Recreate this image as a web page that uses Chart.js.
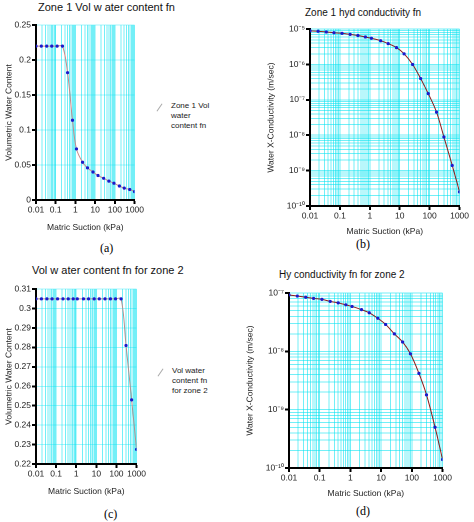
<!DOCTYPE html>
<html>
<head>
<meta charset="utf-8">
<script src="https://cdn.jsdelivr.net/npm/chart.js@4.4.0/dist/chart.umd.min.js"></script>
<style>
body{margin:0;background:#fff;font-family:"Liberation Sans",Arial,sans-serif;width:474px;height:522px;position:relative;overflow:hidden}
canvas{position:absolute}
.t{position:absolute;font-size:10px;color:#111;white-space:nowrap}
.lab{position:absolute;font-family:"Liberation Serif",serif;font-size:12px}
.leg{position:absolute;font-size:8px;line-height:10px;color:#222}
.leg i{position:absolute;left:-12px;top:2px;width:1px;height:9px;background:#aaa;transform:rotate(35deg)}
</style>
</head>
<body>
<div class="t" style="left:38px;top:1px;font-size:11px">Zone 1 Vol w ater content fn</div>
<div class="t" style="left:305px;top:7px">Zone 1 hyd conductivity fn</div>
<div class="t" style="left:32px;top:264px;font-size:11px">Vol w ater content fn for zone 2</div>
<div class="t" style="left:279px;top:269px">Hy conductivity fn for zone 2</div>
<div class="leg" style="left:171px;top:101px"><i></i>Zone 1 Vol<br>water<br>content fn</div>
<div class="leg" style="left:172px;top:366px"><i></i>Vol water<br>content fn<br>for zone 2</div>
<div class="lab" style="left:100px;top:241px">(a)</div>
<div class="lab" style="left:356px;top:237px">(b)</div>
<div class="lab" style="left:104px;top:507px">(c)</div>
<div class="lab" style="left:356px;top:504px">(d)</div>
<canvas id="ca"></canvas>
<canvas id="cb"></canvas>
<canvas id="cc"></canvas>
<canvas id="cd"></canvas>
<script>
// suction values (kPa), shared by all four panels
const suction = [0.01,0.0186,0.035,0.063,0.118,0.22,0.4,0.71,1.13,2.3,4.1,7.8,14,27,50,90,170,300,570,1000]
const zone1Vwc = [0.22,0.22,0.22,0.22,0.22,0.22,0.182,0.114,0.073,0.054,0.046,0.040,0.035,0.031,0.027,0.024,0.020,0.017,0.015,0.012]
const zone2Vwc = [0.305,0.305,0.305,0.305,0.305,0.305,0.305,0.305,0.305,0.305,0.305,0.305,0.305,0.305,0.305,0.305,0.305,0.281,0.253,0.2275]
const zone1K = [8.9e-6,8.7e-6,8.3e-6,7.9e-6,7.6e-6,7.1e-6,6.6e-6,6.0e-6,5.5e-6,4.7e-6,3.9e-6,3.0e-6,2.0e-6,1.0e-6,4.0e-7,1.5e-7,4.5e-8,8.9e-9,1.4e-9,2.5e-10]
const zone2K = [9.3e-8,8.9e-8,8.5e-8,8.1e-8,7.8e-8,7.2e-8,6.8e-8,6.3e-8,5.9e-8,5.2e-8,4.6e-8,3.7e-8,2.9e-8,2.0e-8,1.45e-8,9.1e-9,4.2e-9,1.8e-9,5.0e-10,1.4e-10]
const xTickLabels = ['0.01','0.1','1','10','100','1000']
const sup = {'-':'⁻','0':'⁰','1':'¹','5':'⁵','6':'⁶','7':'⁷','8':'⁸','9':'⁹'}

const FONT = {family:'"Liberation Sans", Arial, sans-serif', size:8.5}
const CYAN = 'rgba(0,225,240,0.55)'

function logTicks(lo, hi){
  let t = []
  for(let e=lo;e<hi;e++) for(let m=1;m<10;m++) t.push({value:Number((m+'e'+e))})
  t.push({value:Number('1e'+hi)})
  return t
}
function isDecade(v){ let l=Math.log10(v); return Math.abs(l-Math.round(l))<1e-6 }

function xScale(h){
  return {type:'logarithmic',min:0.01,max:1000,
    afterBuildTicks:s=>{s.ticks=logTicks(-2,3)},
    afterFit:s=>{s.height=h},
    ticks:{autoSkip:false,maxRotation:0,font:FONT,color:'#222',padding:1,
      callback:v=>isDecade(v)?xTickLabels[Math.round(Math.log10(v))+2]:''},
    grid:{color:CYAN,tickColor:c=>isDecade(c.tick.value)?'#000':'rgba(0,0,0,0)',tickLength:4,tickWidth:2},
    border:{color:'#000',width:2},
    title:{display:true,text:'Matric Suction (kPa)',font:FONT,color:'#222',padding:{top:9}}}
}

function makeChart(id, box, x, y, yScale, yw, xh, lineColor){
  const c = document.getElementById(id)
  c.style.left = box[0]+'px'; c.style.top = box[1]+'px'
  c.style.width = box[2]+'px'; c.style.height = box[3]+'px'
  const pts = x.map((v,i)=>({x:v,y:y[i]}))
  yScale.afterFit = s=>{s.width=yw}
  return new Chart(c,{type:'line',
    data:{datasets:[
      {data:pts,borderColor:lineColor,borderWidth:1,pointRadius:0,tension:0.35,order:2},
      {data:pts,showLine:false,pointRadius:1.6,pointBackgroundColor:'#1a1acc',pointBorderWidth:0,order:1}]},
    options:{responsive:false,animation:false,devicePixelRatio:2,
      layout:{padding:{top:6,right:6,left:0,bottom:0}},
      plugins:{legend:{display:false},tooltip:{enabled:false}},
      scales:{x:xScale(xh),y:yScale}}})
}

function linY(min,max,step,dec){
  return {type:'linear',min:min,max:max,
    ticks:{stepSize:step,font:FONT,color:'#222',padding:1,callback:v=>Number(v.toFixed(dec)).toString()},
    grid:{color:'rgba(0,225,240,0.35)',tickColor:'#000',tickLength:4,tickWidth:2},
    border:{color:'#000',width:2},
    title:{display:true,text:'Volumetric Water Content',font:FONT,color:'#222',padding:{bottom:2}}}
}
function logY(lo,hi){
  return {type:'logarithmic',min:Number('1e'+lo),max:Number('1e'+hi),
    afterBuildTicks:s=>{s.ticks=logTicks(lo,hi)},
    ticks:{autoSkip:false,font:FONT,color:'#222',padding:1,
      callback:v=>isDecade(v)?'10'+String(Math.round(Math.log10(v))).split('').map(ch=>sup[ch]).join(''):''},
    grid:{color:CYAN,tickColor:c=>isDecade(c.tick.value)?'#000':'rgba(0,0,0,0)',tickLength:4,tickWidth:2},
    border:{color:'#000',width:2},
    title:{display:true,text:'Water X-Conductivity (m/sec)',font:FONT,color:'#222',padding:{bottom:2}}}
}

makeChart('ca',[0,19,145,218],suction,zone1Vwc,linY(0,0.25,0.05,2),36,37,'#c98a8a')
makeChart('cb',[262,23,208,218],suction,zone1K,logY(-10,-5),48,35,'#8b1a1a')
makeChart('cc',[0,283,147,218],suction,zone2Vwc,linY(0.22,0.31,0.01,2),36,37,'#b09090')
makeChart('cd',[241,287,212,216],suction,zone2K,logY(-10,-7),48,35,'#8b1a1a')
</script>
</body>
</html>
